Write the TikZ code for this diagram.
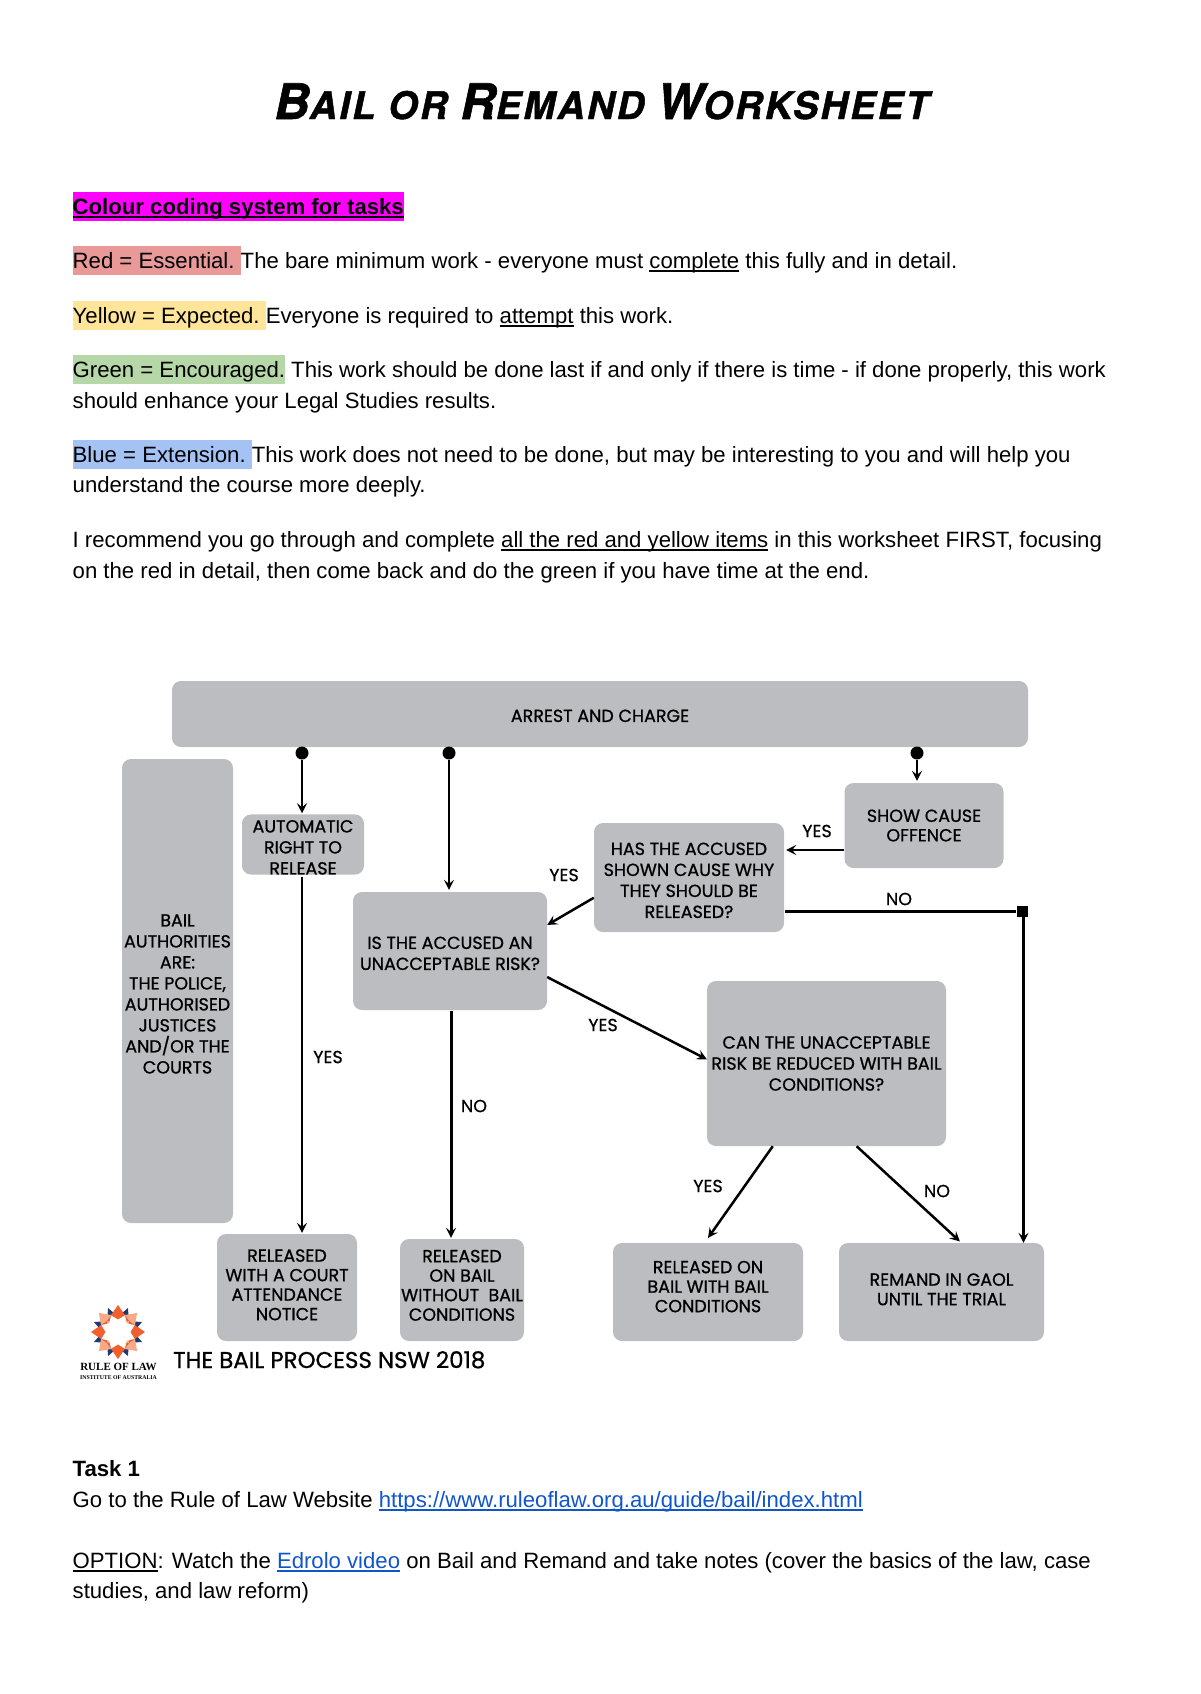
\documentclass[tikz,border=0pt]{standalone}
\usepackage{fontspec}
\setmainfont{Liberation Sans}
\newfontfamily\titlefont[FakeBold=1.2,LetterSpace=6]{TeX Gyre Heros}
\newfontfamily\chartfont[FakeBold=0.8]{Poppins}
\newfontfamily\logofont{Liberation Serif}
\usetikzlibrary{arrows.meta,positioning,shapes.geometric,calc}
\definecolor{boxgray}{RGB}{188,189,192}
\definecolor{hlmagenta}{RGB}{255,0,255}
\definecolor{hlred}{RGB}{234,153,153}
\definecolor{hlyellow}{RGB}{255,229,153}
\definecolor{hlgreen}{RGB}{182,215,168}
\definecolor{hlblue}{RGB}{164,194,244}
\definecolor{linkblue}{RGB}{17,85,204}
\definecolor{logoorange}{RGB}{240,95,45}
\definecolor{logopeach}{RGB}{248,170,135}
\definecolor{logonavy}{RGB}{30,60,115}
\newcommand{\hlbar}[2]{\setbox0\hbox{#2}\rlap{\textcolor{#1}{\rule[-6.5pt]{\wd0}{29pt}}}\box0\relax}
\newcommand{\ulbar}[1]{\setbox0\hbox{#1}\rlap{\rule[-4pt]{\wd0}{2pt}}\box0\relax}
\newcommand{\tcap}[1]{{\fontsize{49}{49}\selectfont #1}}
\newcommand{\liftbox}[1]{\rule[-#1]{0pt}{1pt}}
\newcommand{\dropbox}[1]{\rule{0pt}{#1}}
\tikzset{
  bodyline/.style={anchor=base west, font=\fontsize{22.15}{26}\selectfont, inner sep=0pt},
  flowbox/.style={fill=boxgray, rounded corners=9pt, align=center, inner sep=0pt,
                  font=\chartfont\fontsize{17.5}{21}\selectfont,
                  execute at begin node={\rule{0pt}{16pt}}},
  tightbox/.style={flowbox, font=\chartfont\fontsize{17.5}{19.5}\selectfont},
  flowlabel/.style={font=\chartfont\fontsize{17.5}{20}\selectfont, inner sep=0pt},
  thinflow/.style={-{Stealth[length=10pt,width=10pt,inset=4pt]}, line width=1.9pt},
  thickflow/.style={-{Stealth[length=10pt,width=10pt,inset=4pt]}, line width=3pt},
  slantflow/.style={-{Stealth[length=10pt,width=10pt,inset=4pt]}, line width=2.5pt},
  startdot/.style={circle, fill=black, inner sep=0pt, minimum size=13pt}
}
\begin{document}
\begin{tikzpicture}[x=1pt,y=-1pt]
\useasboundingbox (0,0) rectangle (1200,1694);

% Heading
\node[font=\titlefont\bfseries\itshape\fontsize{38}{38}\selectfont, anchor=base, inner sep=0pt]
  (title) at (601.5,119) {\tcap{B}AIL OR \tcap{R}EMAND \tcap{W}ORKSHEET};

% Colour coding
\node[bodyline, font=\bfseries\fontsize{22.15}{26}\selectfont] (legend) at (72.5,214)
  {\hlbar{hlmagenta}{\ulbar{Colour coding system for tasks}}};
\node[bodyline] (redline) at (72.5,268)
  {\hlbar{hlred}{Red = Essential.\ }The bare minimum work - everyone must \ulbar{complete} this fully and in detail.};
\node[bodyline] (yellowline) at (72.5,323)
  {\hlbar{hlyellow}{Yellow = Expected.\ }Everyone is required to \ulbar{attempt} this work.};
\node[bodyline] (greenline) at (72.5,377)
  {\hlbar{hlgreen}{Green = Encouraged.} This work should be done last if and only if there is time - if done properly, this work};
\node[bodyline] (greenrest) at (72.5,408) {should enhance your Legal Studies results.};
\node[bodyline] (blueline) at (72.5,462)
  {\hlbar{hlblue}{Blue = Extension.\ }This work does not need to be done, but may be interesting to you and will help you};
\node[bodyline] (bluerest) at (72.5,492) {understand the course more deeply.};
\node[bodyline] (advice) at (72.5,547)
  {I recommend you go through and complete \ulbar{all the red and yellow items} in this worksheet FIRST, focusing};
\node[bodyline] (advicerest) at (72.5,578)
  {on the red in detail, then come back and do the green if you have time at the end.};

% Flow boxes
\node[flowbox, minimum width=856pt, minimum height=66pt] (arrest) at (600,714) {ARREST AND CHARGE};
\node[flowbox, minimum width=111pt, minimum height=464pt] (authorities) at (177.5,991)
  {\dropbox{18pt}BAIL\\AUTHORITIES\\ARE:\\THE POLICE,\\AUTHORISED\\JUSTICES\\AND/OR THE\\COURTS};
\node[flowbox, minimum width=122pt, minimum height=57pt] (automatic) at (303,844.5)
  {\dropbox{18pt}AUTOMATIC\\RIGHT TO\\RELEASE};
\node[flowbox, minimum width=194pt, minimum height=118pt] (risk) at (450,951)
  {\dropbox{17pt}IS THE ACCUSED AN\\UNACCEPTABLE RISK?};
\node[flowbox, minimum width=190pt, minimum height=109pt] (shown) at (689,877.5)
  {\dropbox{18pt}HAS THE ACCUSED\\SHOWN CAUSE WHY\\THEY SHOULD BE\\RELEASED?};
\node[tightbox, minimum width=159pt, minimum height=85pt] (showcause) at (924,825.5)
  {SHOW CAUSE\\OFFENCE};
\node[flowbox, minimum width=239pt, minimum height=165pt] (reduce) at (826.5,1063.5)
  {CAN THE UNACCEPTABLE\\RISK BE REDUCED WITH BAIL\\CONDITIONS?};
\node[tightbox, minimum width=140pt, minimum height=107pt] (court) at (287,1287.5)
  {RELEASED\\WITH A COURT\\ATTENDANCE\\NOTICE\liftbox{5.5pt}};
\node[tightbox, minimum width=124pt, minimum height=102pt] (nobail) at (462,1290)
  {RELEASED\\ON BAIL\\WITHOUT\ \ BAIL\\CONDITIONS\liftbox{9.5pt}};
\node[tightbox, minimum width=190pt, minimum height=98pt] (withbail) at (708,1292)
  {RELEASED ON\\BAIL WITH BAIL\\CONDITIONS\liftbox{11pt}};
\node[tightbox, minimum width=205pt, minimum height=98pt] (remand) at (941.5,1292)
  {REMAND IN GAOL\\UNTIL THE TRIAL\liftbox{5.5pt}};

% Start dots and the corner
\node[startdot] (dotauto) at (302,753) {};
\node[startdot] (dotrisk) at (449,753) {};
\node[startdot] (dotshow) at (917,753) {};
\node[fill=black, inner sep=0pt, minimum size=11pt] (corner) at (1022,911) {};
\coordinate (cornerdrop) at (1023.5,911);
\coordinate (nobaildrop) at (451,1011);

% Connectors
\draw[thinflow, shorten >=1pt] (dotauto) -- (dotauto |- automatic.north);
\draw[thickflow, line width=2.2pt, shorten >=2pt] (dotrisk) -- (dotrisk |- risk.north);
\draw[thinflow, shorten >=2pt] (dotshow) -- (dotshow |- showcause.north);
\draw[thinflow, shorten <=2pt, shorten >=1pt] (dotauto |- automatic.south) -- (dotauto |- court.north);
\draw[thinflow, shorten >=2pt] (showcause.west |- 0,850) -- (shown.east |- 0,850);
\draw[thickflow, shorten >=1pt] (nobaildrop) -- (nobaildrop |- nobail.north);
\draw[slantflow] (shown.192) -- (risk.15);
\draw[slantflow] (risk.-15) -- (reduce.178);
\draw[slantflow, shorten >=6pt] (reduce.237) -- (withbail.94);
\draw[slantflow, shorten >=2pt] (reduce.-70) -- (remand.68);
\draw[line width=3pt, shorten <=1pt] (shown.east |- corner) -- (corner);
\draw[thickflow] (cornerdrop) -- (cornerdrop |- remand.north);

% Connector labels
\node[flowlabel] (yesauto) at (328,1057) {YES};
\node[flowlabel] (nonobail) at (474,1106) {NO};
\node[flowlabel] (yesrisk) at (564,875) {YES};
\node[flowlabel] (yesshown) at (817,831) {YES};
\node[flowlabel] (nocorner) at (899,899) {NO};
\node[flowlabel] (yesreduce) at (603,1025) {YES};
\node[flowlabel] (yeswithbail) at (708,1186) {YES};
\node[flowlabel] (noremand) at (937,1191) {NO};

% Logo
\foreach \ang in {0,90,180,270} {
  \fill[logonavy, rotate around={\ang+22.5:(118,1332)}] (113,1316) -- (118,1306) -- (123,1316) -- cycle;
  \fill[logonavy, rotate around={\ang-22.5:(118,1332)}] (113,1316) -- (118,1306) -- (123,1316) -- cycle;
}
\foreach \ang in {45,135,225,315} {
  \fill[logopeach, rotate around={\ang:(118,1332)}] (106,1322) -- (118,1305) -- (130,1322) -- cycle;
}
\foreach \ang in {0,90,180,270} {
  \fill[logoorange, rotate around={\ang:(118,1332)}] (107,1321) -- (118,1305) -- (129,1321) -- cycle;
}
\node[star, star points=8, star point ratio=1.45, shape border rotate=22.5, fill=white,
      inner sep=0pt, minimum size=36pt] (logostar) at (118,1332) {};
\node[font=\logofont\bfseries\fontsize{11}{11}\selectfont, anchor=base, inner sep=0pt] (logoname) at (118.5,1370) {RULE OF LAW};
\node[font=\logofont\bfseries\fontsize{5.8}{7}\selectfont, anchor=base, inner sep=0pt] (logosub) at (118.5,1379) {INSTITUTE OF AUSTRALIA};
\node[font=\chartfont\fontsize{22.9}{23}\selectfont, anchor=base west, inner sep=0pt] (caption) at (173,1368) {THE BAIL PROCESS NSW 2018};

% Task text
\node[bodyline, font=\bfseries\fontsize{22.15}{26}\selectfont] (task) at (72.5,1476) {Task 1};
\node[bodyline] (taskline) at (72.5,1507)
  {Go to the Rule of Law Website \textcolor{linkblue}{\ulbar{https://www.ruleoflaw.org.au/guide/bail/index.html}}};
\node[bodyline] (option) at (72.5,1568)
  {\ulbar{OPTION}: Watch the \textcolor{linkblue}{\ulbar{Edrolo video}} on Bail and Remand and take notes (cover the basics of the law, case};
\node[bodyline] (optionrest) at (72.5,1598) {studies, and law reform)};

\end{tikzpicture}
\end{document}
